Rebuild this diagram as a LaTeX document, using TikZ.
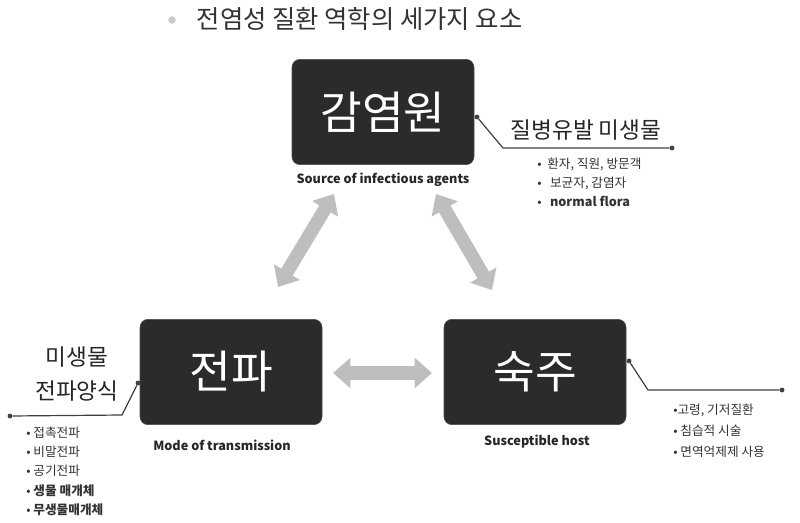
\documentclass[tikz,border=0pt]{standalone}
\usepackage{fontspec}
\setmainfont{Noto Sans CJK KR}
\usetikzlibrary{arrows.meta}
\definecolor{boxc}{HTML}{2B2B2B}
\definecolor{arrc}{HTML}{BEBEBE}
\tikzset{
  bigbox/.style={fill=boxc,draw=black!70,rounded corners=6pt,minimum width=136.5pt,minimum height=79pt,text=white,font=\fontsize{34}{36}\selectfont},
  captxt/.style={font=\bfseries\fontsize{9.5}{11}\selectfont,text=black!85},
  dbl/.style={arrc,line width=10pt,{Triangle[length=13pt,width=22pt]}-{Triangle[length=13pt,width=22pt]}},
  lead/.style={black!75,line width=0.9pt},
  dotc/.style={circle,fill=black!75,inner sep=1.3pt},
  blist/.style={align=left,anchor=north west,font=\fontsize{9.5}{14}\selectfont,text=black!80,inner sep=0pt}
}
\begin{document}
\begin{tikzpicture}[x=0.75pt,y=-0.75pt]
\useasboundingbox (0,0) rectangle (800,522);
\fill[white] (0,0) rectangle (800,522);
\node[circle,fill=black!20,inner sep=2pt] (tb) at (172,20) {};
\node[anchor=west,font=\fontsize{19}{22}\selectfont,text=black!80] (title) at (192,19) {전염성 질환 역학의 세가지 요소};

\node[bigbox] (src) at (383,112) {감염원};
\node[bigbox] (mode) at (231,372) {전파};
\node[bigbox] (host) at (535,372) {숙주};

\node[captxt] (srcc) at (383,180) {Source of infectious agents};
\node[captxt] (modec) at (222,445) {Mode of transmission};
\node[captxt] (hostc) at (537,442) {Susceptible host};

\coordinate (a1) at (278,287); \coordinate (a2) at (334,194);
\coordinate (b1) at (436,194); \coordinate (b2) at (492,290);
\coordinate (c1) at (333,373); \coordinate (c2) at (432,373);
\draw[dbl] (a1) -- (a2);
\draw[dbl] (b1) -- (b2);
\draw[dbl] (c1) -- (c2);

% top right callout
\node[dotc] (d1) at (477,117) {};
\coordinate (k1) at (503,148);
\node[dotc] (d2) at (672,148) {};
\draw[lead] (d1) -- (k1) -- (d2);
\node[font=\fontsize{17}{20}\selectfont,text=black!85] (t1) at (586,130) {질병유발 미생물};
\node[blist] (l1) at (537,158) {•\ \ 환자, 직원, 방문객\\•\ \ \ 보균자, 감염자\\•\ \ \ \textbf{normal flora}};

% left callout
\node[dotc] (d3) at (138,383) {};
\coordinate (k2) at (122,415);
\node[dotc] (d4) at (10,416) {};
\draw[lead] (d3) -- (k2) -- (d4);
\node[align=center,font=\fontsize{17}{26}\selectfont,text=black!85] (t2) at (77,374) {미생물\\전파양식};
\node[blist,font=\fontsize{9.5}{14.3}\selectfont] (l2) at (26,427) {• 접촉전파\\• 비말전파\\• 공기전파\\• \textbf{생물 매개체}\\• \textbf{무생물매개체}};

% right callout
\node[dotc] (d5) at (629,361) {};
\coordinate (k3) at (648,390);
\node[dotc] (d6) at (782,390) {};
\draw[lead] (d5) -- (k3) -- (d6);
\node[blist,font=\fontsize{9.5}{15.5}\selectfont] (l3) at (673,404) {•고령, 기저질환\\• 침습적 시술\\• 면역억제제 사용};
\end{tikzpicture}
\end{document}
